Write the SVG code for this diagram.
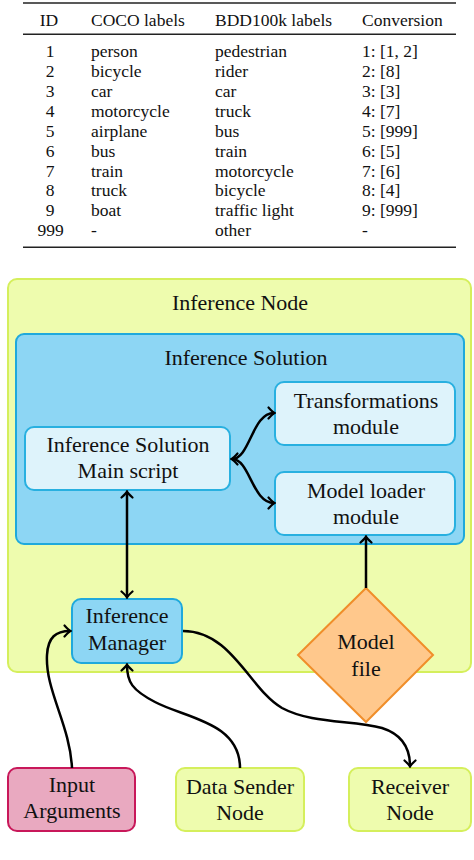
<svg xmlns="http://www.w3.org/2000/svg" width="474" height="860" viewBox="0 0 474 860">
<style>
.t{font-family:'Liberation Serif','Times New Roman',Times,'DejaVu Serif',serif;font-size:17.5px;fill:#111}
.d{font-family:'Liberation Serif','Times New Roman',Times,'DejaVu Serif',serif;font-size:22px;fill:#111;text-anchor:middle}
.c{text-anchor:middle}
.rule{stroke:#222;stroke-width:1.4}
.yel{fill:#eefcae;stroke:#d5ef5c;stroke-width:2}
.blu{fill:#8dd6f4;stroke:#1fa9dc;stroke-width:2}
.lbl{fill:#def3fb;stroke:#28b0e0;stroke-width:2}
.pnk{fill:#e9a9c0;stroke:#c8185a;stroke-width:2}
.org{fill:#ffc88c;stroke:#f08e2a;stroke-width:2}
.cn{fill:none;stroke:#000;stroke-width:2.5}
</style>
<defs>
<marker id="ah" viewBox="-7 -7 9 14" refX="0" refY="0" markerWidth="9" markerHeight="14" markerUnits="userSpaceOnUse" orient="auto-start-reverse">
<path d="M-5.5,-5.5 Q-1.5,-1 0.5,0 Q-1.5,1 -5.5,5.5" fill="none" stroke="#000" stroke-width="2.2" stroke-linecap="round"/>
</marker>
</defs>
<rect width="474" height="860" fill="#fff"/>
<g id="table" font-family="Liberation Serif, serif">
<line class="rule" x1="23" y1="3" x2="456" y2="3"/>
<line class="rule" x1="23" y1="34.3" x2="456" y2="34.3"/>
<line class="rule" x1="23" y1="247.3" x2="456" y2="247.3"/>
<text class="t c" x="49" y="26">ID</text>
<text class="t" x="91" y="26">COCO labels</text>
<text class="t" x="215" y="26">BDD100k labels</text>
<text class="t" x="362" y="26">Conversion</text>
<text class="t c" x="50" y="57.3">1</text><text class="t" x="91" y="57.3">person</text><text class="t" x="215" y="57.3">pedestrian</text><text class="t" x="362" y="57.3">1: [1, 2]</text>
<text class="t c" x="50" y="77.2">2</text><text class="t" x="91" y="77.2">bicycle</text><text class="t" x="215" y="77.2">rider</text><text class="t" x="362" y="77.2">2: [8]</text>
<text class="t c" x="50" y="97">3</text><text class="t" x="91" y="97">car</text><text class="t" x="215" y="97">car</text><text class="t" x="362" y="97">3: [3]</text>
<text class="t c" x="50" y="116.9">4</text><text class="t" x="91" y="116.9">motorcycle</text><text class="t" x="215" y="116.9">truck</text><text class="t" x="362" y="116.9">4: [7]</text>
<text class="t c" x="50" y="136.7">5</text><text class="t" x="91" y="136.7">airplane</text><text class="t" x="215" y="136.7">bus</text><text class="t" x="362" y="136.7">5: [999]</text>
<text class="t c" x="50" y="156.6">6</text><text class="t" x="91" y="156.6">bus</text><text class="t" x="215" y="156.6">train</text><text class="t" x="362" y="156.6">6: [5]</text>
<text class="t c" x="50" y="176.5">7</text><text class="t" x="91" y="176.5">train</text><text class="t" x="215" y="176.5">motorcycle</text><text class="t" x="362" y="176.5">7: [6]</text>
<text class="t c" x="50" y="196.3">8</text><text class="t" x="91" y="196.3">truck</text><text class="t" x="215" y="196.3">bicycle</text><text class="t" x="362" y="196.3">8: [4]</text>
<text class="t c" x="50" y="216.2">9</text><text class="t" x="91" y="216.2">boat</text><text class="t" x="215" y="216.2">traffic light</text><text class="t" x="362" y="216.2">9: [999]</text>
<text class="t c" x="50.5" y="236">999</text><text class="t" x="91" y="236">-</text><text class="t" x="215" y="236">other</text><text class="t" x="362" y="236">-</text>
</g>
<g id="inference-node">
<rect class="yel" x="8" y="279" width="463" height="393" rx="9"/>
<text class="d" x="240" y="310">Inference Node</text>
</g>
<g id="inference-solution">
<rect class="blu" x="16" y="334" width="448" height="210" rx="8"/>
<text class="d" x="246" y="365">Inference Solution</text>
</g>
<g id="main-script">
<rect class="lbl" x="25" y="427" width="205" height="63" rx="9"/>
<text class="d" x="128" y="452">Inference Solution</text>
<text class="d" x="128" y="478">Main script</text>
</g>
<g id="transformations">
<rect class="lbl" x="275" y="382" width="180" height="63" rx="9"/>
<text class="d" x="366" y="408">Transformations</text>
<text class="d" x="366" y="434">module</text>
</g>
<g id="model-loader">
<rect class="lbl" x="275" y="472" width="180" height="63" rx="9"/>
<text class="d" x="366" y="498">Model loader</text>
<text class="d" x="366" y="524">module</text>
</g>
<g id="inference-manager">
<rect class="blu" x="72" y="599" width="110" height="64" rx="9"/>
<text class="d" x="127" y="623">Inference</text>
<text class="d" x="127" y="650">Manager</text>
</g>
<g id="model-file">
<polygon class="org" points="366,588 433,655 366,722 298,655"/>
<text class="d" x="366" y="649">Model</text>
<text class="d" x="366" y="676">file</text>
</g>
<g id="input-arguments">
<rect class="pnk" x="8" y="768" width="127" height="63" rx="9"/>
<text class="d" x="72" y="792">Input</text>
<text class="d" x="72" y="818">Arguments</text>
</g>
<g id="data-sender">
<rect class="yel" x="176" y="768" width="128" height="63" rx="9"/>
<text class="d" x="240" y="794">Data Sender</text>
<text class="d" x="240" y="820">Node</text>
</g>
<g id="receiver">
<rect class="yel" x="349" y="768" width="122" height="63" rx="9"/>
<text class="d" x="410" y="794">Receiver</text>
<text class="d" x="410" y="820">Node</text>
</g>
<g id="connectors">
<path class="cn" d="M232,459 C250,459 252,413 274,413" marker-start="url(#ah)" marker-end="url(#ah)"/>
<path class="cn" d="M232,459 C250,459 252,503 274,503" marker-end="url(#ah)"/>
<path class="cn" d="M127,492 L127,597" marker-start="url(#ah)" marker-end="url(#ah)"/>
<path class="cn" d="M366,588 L366,537" marker-end="url(#ah)"/>
<path class="cn" d="M72,768 C70,725 45,690 47,655 C48,637 56,631 70,631" marker-end="url(#ah)"/>
<path class="cn" d="M240,768 C240,722 185,718 155,702 C132,690 127,682 127,665" marker-end="url(#ah)"/>
<path class="cn" d="M183,631 C232,631 250,690 282,708 C312,724 352,720 382,728 C404,735 410,750 410,766" marker-end="url(#ah)"/>
</g>
</svg>
